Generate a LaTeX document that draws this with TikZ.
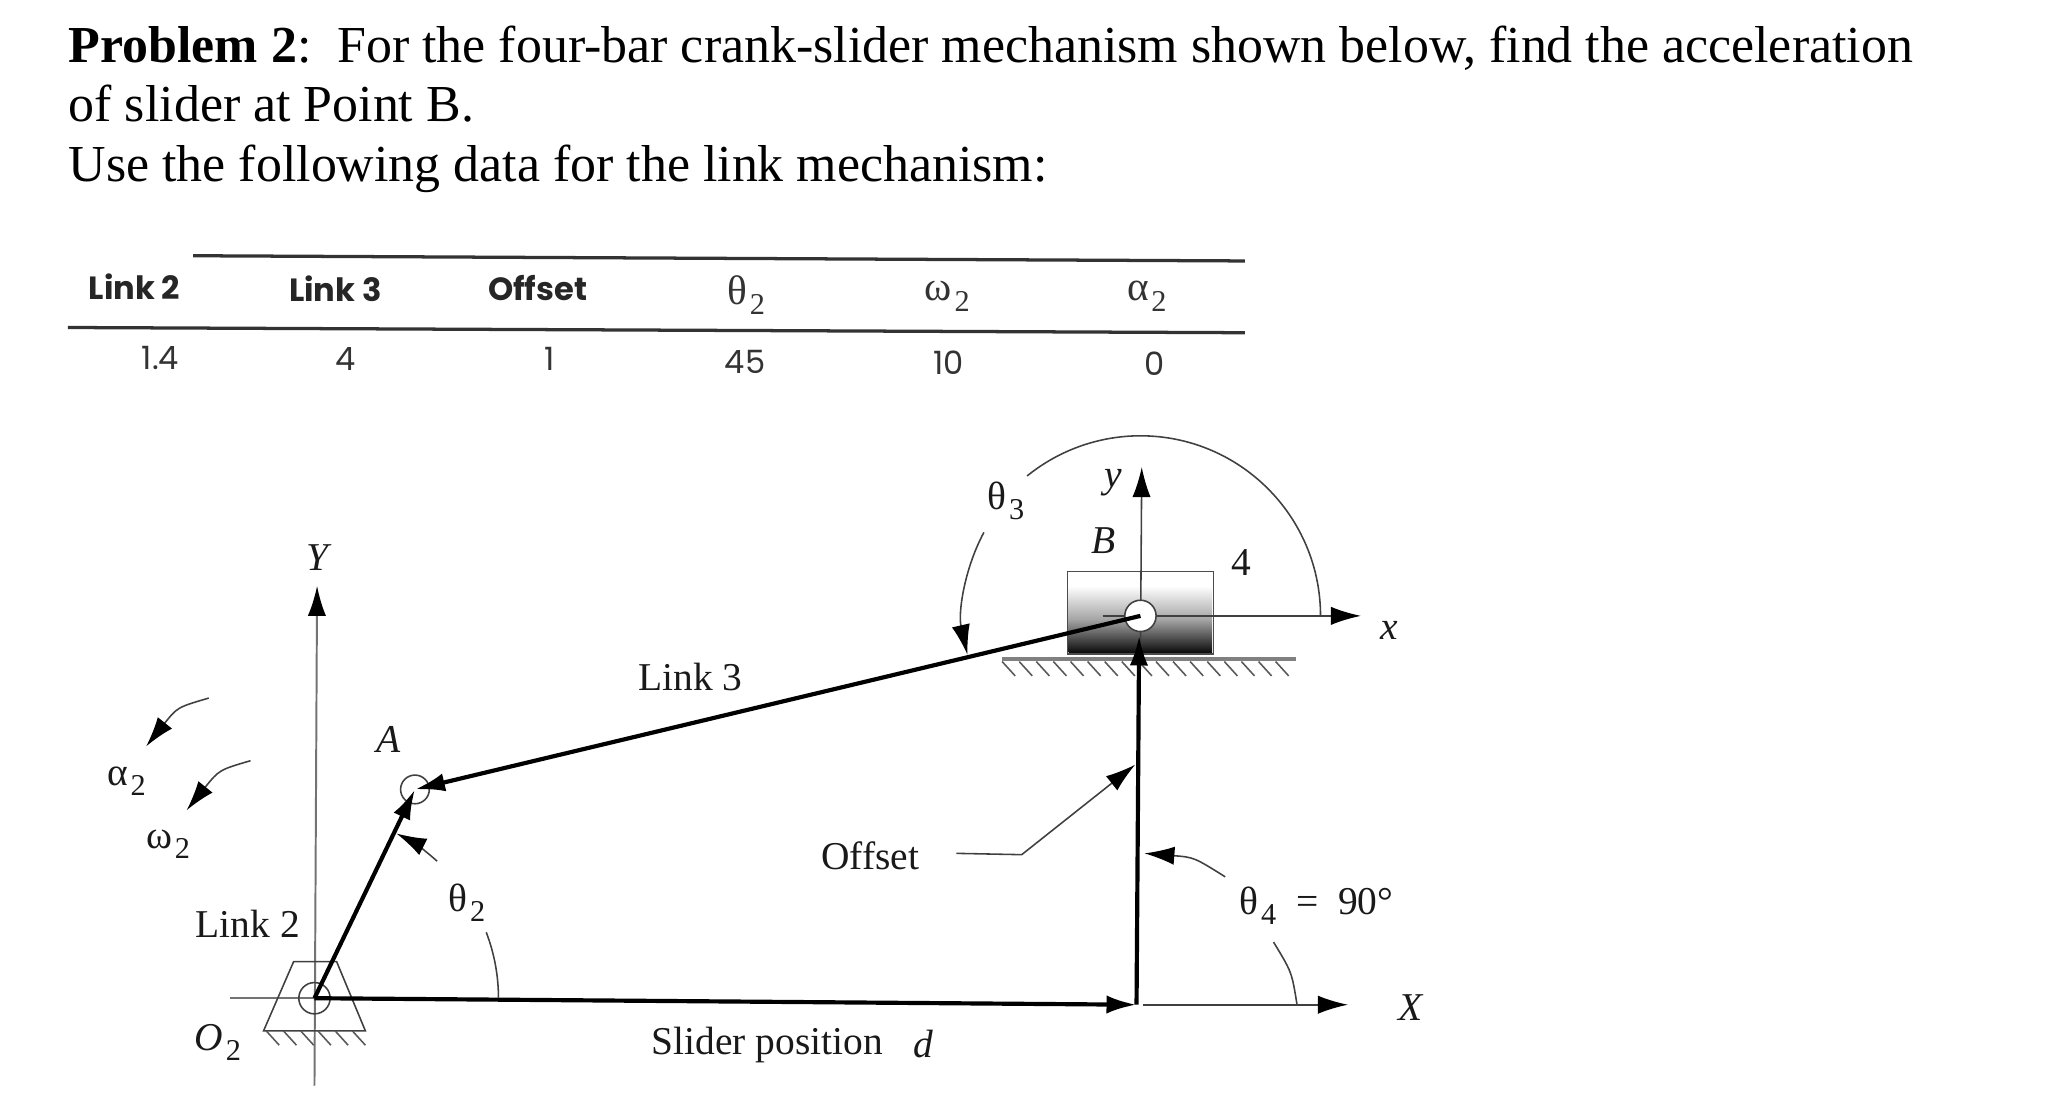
\documentclass[tikz,border=0pt]{standalone}
\usepackage{fontspec}
\setmainfont{Liberation Serif}
\newfontfamily\tablefont{Poppins}
\usetikzlibrary{arrows.meta}
\newcommand{\lowidx}[1]{\kern0.06em\raisebox{-0.55ex}{\fontsize{6.6}{7}\selectfont #1}}
\tikzset{
	titletext/.style={anchor=base west, inner sep=0pt, font=\fontsize{11.32}{14}\selectfont},
	headcell/.style={inner sep=0pt, text=black!85, font=\tablefont\fontsize{7}{8}\selectfont\bfseries},
	valuecell/.style={inner sep=0pt, text=black!80, font=\tablefont\fontsize{7}{8}\selectfont},
	greekcell/.style={inner sep=0pt, text=black!80, font=\fontsize{9}{10}\selectfont},
	label/.style={inner sep=0pt, text=black!90, font=\fontsize{8.6}{10}\selectfont},
	axislabel/.style={label, font=\fontsize{8.6}{10}\selectfont\itshape},
	linkline/.style={line width=0.32mm, color=black},
	thinline/.style={line width=0.12mm, color=black!75},
	axisline/.style={line width=0.15mm, color=black!55},
	tipfill/.style={-{Latex[length=2.3mm,width=1.4mm,color=black]}},
	hatchline/.style={line width=0.12mm, color=black!65},
}
\begin{document}
\begin{tikzpicture}
		%%%%% START %%%%%
		\useasboundingbox (0, -0.04) rectangle (15.68, 8.45);
		
		\node[titletext] (title) at (0.52, 7.97) {\textbf{Problem 2}:\ \ For the four-bar crank-slider mechanism shown below, find the acceleration};
		\node[titletext] (titletwo) at (0.52, 7.52) {of slider at Point B.};
		\node[titletext] (titlethree) at (0.52, 7.06) {Use the following data for the link mechanism:};
		
		% table
		\coordinate (ruleastart) at (1.48, 6.49);
		\coordinate (ruleaend) at (9.54, 6.45);
		\coordinate (rulebstart) at (0.52, 5.94);
		\coordinate (rulebend) at (9.54, 5.90);
		\draw[line width=0.25mm, color=black!80] (ruleastart) -- (ruleaend);
		\draw[line width=0.25mm, color=black!80] (rulebstart) -- (rulebend);
		
		\node[headcell] (headlinktwo) at (1.03, 6.25) {Link 2};
		\node[headcell] (headlinkthree) at (2.57, 6.24) {Link 3};
		\node[headcell] (headoffset) at (4.12, 6.24) {Offset};
		\node[greekcell] (headtheta) at (5.72, 6.19) {θ\lowidx{2}};
		\node[greekcell] (headomega) at (7.26, 6.18) {ω\lowidx{2}};
		\node[greekcell] (headalpha) at (8.79, 6.18) {α\lowidx{2}};
		
		\node[valuecell] (vallinktwo) at (1.23, 5.71) {1.4};
		\node[valuecell] (vallinkthree) at (2.65, 5.70) {4};
		\node[valuecell] (valoffset) at (4.21, 5.70) {1};
		\node[valuecell] (valtheta) at (5.71, 5.68) {45};
		\node[valuecell] (valomega) at (7.27, 5.67) {10};
		\node[valuecell] (valalpha) at (8.85, 5.66) {0};
		
		% joints
		\coordinate (O2) at (2.41, 0.80);
		\coordinate (A) at (3.18, 2.40);
		\coordinate (B) at (8.74, 3.73);
		\coordinate (C) at (8.71, 0.75);
		\coordinate (slidertip) at (8.73, 3.58);
		
		% slider
		\draw[line width=0.12mm, color=black!70] (8.18, 3.44) rectangle (9.30, 4.07);
		\shade[top color=white, bottom color=black!95, middle color=black!35] (8.19, 3.45) rectangle (9.29, 3.96);
		
		% axes
		\coordinate (Ybottom) at (2.41, 0.13);
		\coordinate (Ytop) at (2.43, 3.96);
		\coordinate (Xleft) at (1.76, 0.80);
		\coordinate (Xstart) at (8.76, 0.75);
		\coordinate (Xend) at (10.33, 0.75);
		\coordinate (ybottom) at (8.74, 3.45);
		\coordinate (ytop) at (8.75, 4.87);
		\coordinate (xstart) at (8.45, 3.73);
		\coordinate (xend) at (10.43, 3.73);
		\draw[axisline, tipfill] (Ybottom) -- (Ytop);
		\draw[axisline] (Xleft) -- (O2);
		\draw[thinline, tipfill] (Xstart) -- (Xend);
		\draw[thinline, tipfill] (ybottom) -- (ytop);
		\draw[thinline, tipfill] (xstart) -- (xend);
		
		% ground
		\draw[line width=0.25mm, color=black!50] (7.68, 3.40) -- (9.93, 3.40);
		\foreach \i in {0,...,16} {
			\draw[hatchline] ({7.68+0.131*\i}, 3.38) -- ++(0.10, -0.11);
		}
		\draw[thinline] (2.25, 1.08) -- (2.58, 1.08) -- (2.80, 0.55) -- (2.02, 0.55) -- cycle;
		\foreach \i in {0,...,5} {
			\draw[hatchline] ({2.04+0.132*\i}, 0.55) -- ++(0.10, -0.11);
		}
		
		% pins
		\draw[thinline, fill=white] (B) circle (0.12);
		\draw[thinline] (A) circle (0.11);
		\draw[thinline] (O2) circle (0.12);
		
		% links
		\draw[linkline, tipfill] (O2) -- (A);
		\draw[linkline, tipfill] (B) -- (A);
		\draw[linkline, tipfill] (O2) -- (C);
		\draw[linkline, tipfill] (C) -- (slidertip);
		
		% angle arcs
		\draw[thinline] (10.12, 3.73) arc (0:129:1.38);
		\draw[thinline, tipfill] (7.54, 4.37) arc (152:192.7:1.36);
		\draw[thinline] (3.82, 0.80) arc (0:21:1.41);
		\draw[thinline, tipfill] (3.35, 1.85) arc (48:63.5:1.40);
		\coordinate (alphastart) at (1.60, 3.10);
		\coordinate (alphaend) at (1.12, 2.73);
		\coordinate (omegastart) at (1.92, 2.62);
		\coordinate (omegaend) at (1.43, 2.24);
		\draw[thinline, tipfill] (alphastart) .. controls (1.36, 3.03) .. (alphaend);
		\draw[thinline, tipfill] (omegastart) .. controls (1.68, 2.55) .. (omegaend);
		\coordinate (thetafourstart) at (9.39, 1.73);
		\coordinate (thetafourend) at (8.77, 1.91);
		\coordinate (thetafourlow) at (9.76, 1.23);
		\coordinate (thetafourhigh) at (9.94, 0.75);
		\draw[thinline, tipfill] (thetafourstart) .. controls (9.15, 1.88) .. (thetafourend);
		\draw[thinline] (thetafourlow) .. controls (9.90, 1.00) .. (thetafourhigh);
		
		% offset leader
		\coordinate (offsetstart) at (7.33, 1.91);
		\coordinate (offsetknee) at (7.83, 1.90);
		\coordinate (offsetend) at (8.70, 2.59);
		\draw[thinline, tipfill] (offsetstart) -- (offsetknee) -- (offsetend);
		
		% labels
		\node[axislabel] (labelY) at (2.43, 4.18) {Y};
		\node[axislabel] (labelX) at (10.81, 0.73) {X};
		\node[axislabel] (labelx) at (10.65, 3.62) {x};
		\node[axislabel] (labely) at (8.53, 4.75) {y};
		\node[axislabel] (labelB) at (8.46, 4.31) {B};
		\node[label] (labelfour) at (9.51, 4.14) {4};
		\node[label] (labelthetathree) at (7.71, 4.61) {θ\lowidx{3}};
		\node[label] (labellinkthree) at (5.29, 3.26) {Link 3};
		\node[label] (labellinktwo) at (1.90, 1.37) {Link 2};
		\node[axislabel] (labelA) at (2.98, 2.78) {A};
		\node[label] (labelalpha) at (0.97, 2.46) {α\lowidx{2}};
		\node[label] (labelomega) at (1.29, 1.98) {ω\lowidx{2}};
		\node[label] (labelthetatwo) at (3.58, 1.53) {θ\lowidx{2}};
		\node[axislabel] (labelO) at (1.67, 0.46) {O\lowidx{\upshape 2}};
		\node[label] (labeloffset) at (6.67, 1.89) {Offset};
		\node[label] (labelslider) at (5.88, 0.44) {Slider position};
		\node[axislabel] (labeld) at (7.08, 0.45) {d};
		\node[label] (labelthetafour) at (10.09, 1.51) {θ\lowidx{4}\kern0.5em=\kern0.5em90°};
		
		%%%%% END %%%%%
	\end{tikzpicture}
\end{document}
